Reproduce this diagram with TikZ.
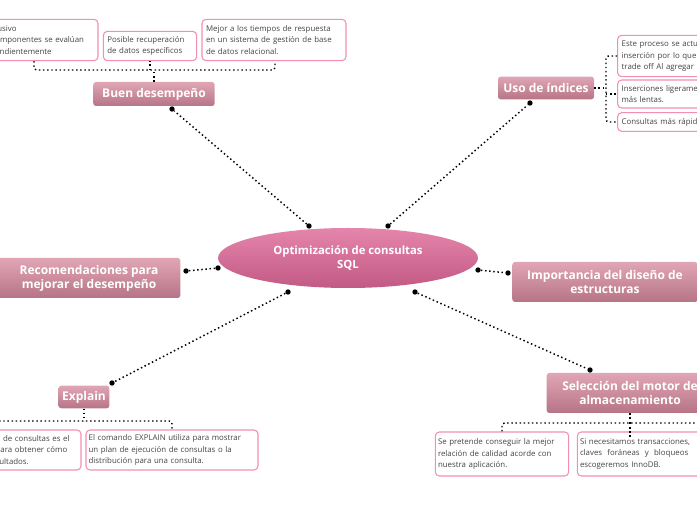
\documentclass[tikz,border=0pt]{standalone}
\usepackage{fontspec}
\setmainfont{Open Sans}
\usetikzlibrary{shapes.geometric}
\definecolor{leafb}{HTML}{F28FB3}
\definecolor{ttop}{HTML}{E0A6B6}
\definecolor{tbot}{HTML}{B77487}
\definecolor{ctop}{HTML}{E585AC}
\definecolor{cbot}{HTML}{C25A84}
\definecolor{txt}{HTML}{444444}
\tikzset{
 topic/.style={rectangle,rounded corners=2pt,top color=ttop,bottom color=tbot,text=white,font=\fontsize{9}{10.5}\selectfont\bfseries,align=center,inner sep=0pt},
 leaf/.style={rectangle,rounded corners=3pt,draw=leafb,line width=0.8pt,fill=white,text=txt,font=\fontsize{5.9}{8.4}\selectfont,align=left,inner sep=0pt},
 conn/.style={dotted,line width=1.1pt,black},
 dot/.style={circle,fill=black,inner sep=0pt,minimum size=4pt},
}
\begin{document}
\begin{tikzpicture}[x=0.75pt,y=-0.75pt]
\useasboundingbox (0,0) rectangle (697,520);
\clip (0,0) rectangle (697,520);
% center
\node[ellipse,top color=ctop,bottom color=cbot,minimum width=195pt,minimum height=45pt,inner sep=0pt,text=white,font=\fontsize{8.5}{10.5}\selectfont\bfseries,align=center] (c) at (348,258) {Optimización de consultas\\SQL};
% topics
\node[topic,minimum width=91pt,minimum height=18pt] (bd) at (154,94) {Buen desempeño};
\node[topic,minimum width=72pt,minimum height=17pt] (ui) at (546,88) {Uso de índices};
\node[topic,minimum width=137pt,minimum height=30pt] (rec) at (89,278) {Recomendaciones para\\mejorar el desempeño};
\node[topic,minimum width=139pt,minimum height=30pt] (imp) at (605,282) {Importancia del diseño de\\estructuras};
\node[topic,minimum width=38pt,minimum height=17pt] (ex) at (84,397) {Explain};
\node[topic,minimum width=125pt,minimum height=30pt] (sel) at (630,393) {Selección del motor de\\almacenamiento};
% leaves
\node[leaf,minimum width=78pt,minimum height=31pt,text width=76pt] (l1) at (46,40) {lusivo\\omponentes se evalúan\\endientemente};
\node[leaf,minimum width=70pt,minimum height=22pt,text width=64pt] (l2) at (150,46) {Posible recuperación\\de datos específicos};
\node[leaf,minimum width=108pt,minimum height=31pt,text width=102pt] (l3) at (274,40) {Mejor a los tiempos de respuesta\\ en un sistema de gestión de base\\ de datos relacional.};
\node[leaf,minimum width=80pt,minimum height=31pt,text width=74pt] (u1) at (671,56) {Este proceso se actualiza\\inserción por lo que\\ trade off Al agregar};
\node[leaf,minimum width=80pt,minimum height=21pt,text width=74pt] (u2) at (671,94) {Inserciones ligeramente\\más lentas.};
\node[leaf,minimum width=80pt,minimum height=14pt,text width=74pt] (u3) at (671,122) {Consultas más rápidas};
\node[leaf,minimum width=66pt,minimum height=30pt,text width=62pt] (e1) at (37,450) {n de consultas es el\\para obtener cómo\\sultados.};
\node[leaf,minimum width=129pt,minimum height=30pt,text width=125pt] (e2) at (172,450) {El comando EXPLAIN utiliza para mostrar\\ un plan de ejecución de consultas o la\\distribución para una consulta.};
\node[leaf,minimum width=100pt,minimum height=33pt,text width=96pt] (s1) at (502,454) {Se pretende conseguir la mejor\\relación de calidad acorde con\\ nuestra aplicación.};
\node[leaf,minimum width=100pt,minimum height=33pt,text width=96pt] (s2) at (644,454) {Si necesitamos transacciones,\\ claves\ \ foráneas\ \ y\ \ bloqueos\\escogeremos InnoDB.};
% main connectors with dots
\foreach \a/\b/\pa/\pb in {c/bd/{309,226}/{172,109}, c/ui/{388,226}/{530,103}, c/rec/{218,268}/{186,271}, c/imp/{478,270}/{508,273}, c/ex/{288,292}/{112,383}, c/sel/{415,292}/{590,370}}{
  \node[dot] (d1\b) at (\pa) {};
  \node[dot] (d2\b) at (\pb) {};
  \draw[conn] (d1\b) -- (d2\b);
}
% brackets
\draw[conn] (bd.north) -- ++(0,-12) coordinate (bj);
\draw[conn,rounded corners=2pt] (l1.south -| 34,0) -- (34,70) -- (275,70) -- (l3.south -| 275,0);
\draw[conn] (150,70) -- (l2.south);
\draw[conn] (ui.east) -- (606,88);
\draw[conn,rounded corners=2pt] (u1.west) -- (606,56) -- (606,122) -- (u3.west);
\draw[conn] (606,94) -- (u2.west);
\draw[conn] (ex.south) -- (84,421);
\draw[conn,rounded corners=2pt] (-5,421) -- (172,421) -- (e2.north);
\draw[conn] (sel.south -| 630,0) -- (630,423);
\draw[conn,rounded corners=2pt] (s1.north) -- (502,423) -- (700,423);
\draw[conn] (630,423) -- (630,437);
\end{tikzpicture}
\end{document}
